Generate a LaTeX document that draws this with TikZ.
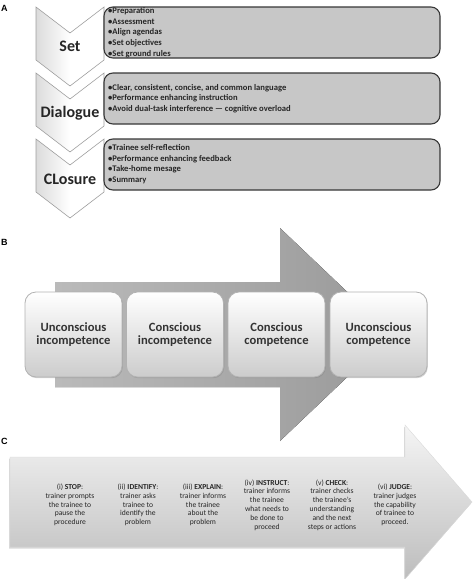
\documentclass[tikz,border=0pt]{standalone}
\usepackage{fontspec}
\setmainfont{Carlito}
\newfontfamily\labelfont{Liberation Sans}
\usetikzlibrary{shadows}
\begin{document}
\begin{tikzpicture}[x=1pt,y=-1pt,
  paneltxt/.style={font=\labelfont\bfseries\fontsize{9}{10}\selectfont, inner sep=0pt, anchor=west},
  chev/.style={draw=black!38, line width=0.6pt, left color=black!14, right color=white, middle color=white},
  chevtxt/.style={font=\fontsize{16}{18}\selectfont\bfseries, text=black!85, inner sep=0pt},
  listbox/.style={draw=black!78, line width=1.1pt, fill=black!22, rounded corners=9pt},
  listtxt/.style={align=left, font=\fontsize{8.6}{10.7}\selectfont\bfseries, text=black!85, inner sep=0pt, anchor=west},
  bigarrow/.style={left color=black!27, right color=black!40},
  bbox/.style={rounded corners=11pt, draw=black!30, line width=0.8pt, top color=white, bottom color=black!20,
     minimum width=97pt, minimum height=85pt, align=center, inner sep=0pt,
     font=\fontsize{12.6}{13.5}\selectfont\bfseries, text=black!80,
     drop shadow={shadow xshift=0.8pt, shadow yshift=-1.2pt, opacity=0.35}},
  carrow/.style={draw=black!15, line width=0.4pt, top color=black!4, bottom color=black!26,
     drop shadow={shadow xshift=-1pt, shadow yshift=-1.5pt, opacity=0.3}},
  ctxt/.style={align=center, font=\fontsize{7.6}{8.8}\selectfont, text=black!85, inner sep=0pt}
]
\useasboundingbox (0,0) rectangle (474,579);

% ---------------- Panel A ----------------
\node[paneltxt] (labA) at (1,8) {A};

\foreach \T in {7,73,139}{
  \draw[chev] (36,\T) -- (70,\T+26) -- (104,\T) -- (104,\T+53) -- (70,\T+79) -- (36,\T+53) -- cycle;
}
\draw[listbox] (104,7) rectangle (440,58);
\draw[listbox] (104,73) rectangle (440,124);
\draw[listbox] (104,139) rectangle (440,190);

\node[chevtxt] (set) at (70,46) {Set};
\node[chevtxt] (dial) at (70,113) {Dialogue};
\node[chevtxt] (clos) at (70,179) {CLosure};

\node[listtxt] (setlist) at (108,32.5) {•Preparation\\•Assessment\\•Align agendas\\•Set objectives\\•Set ground rules};
\node[listtxt] (diallist) at (108,98.5) {•Clear, consistent, concise, and common language\\•Performance enhancing instruction\\•Avoid dual-task interference — cognitive overload};
\node[listtxt] (closlist) at (108,164) {•Trainee self-reflection\\•Performance enhancing feedback\\•Take-home mesage\\•Summary};

% ---------------- Panel B ----------------
\node[paneltxt] (labB) at (1,242) {B};
\fill[bigarrow] (55,282) -- (280,282) -- (280,228) -- (392,334.5) -- (280,441) -- (280,387) -- (55,387) -- cycle;

\node[bbox] (b1) at (73.5,334.5) {Unconscious\\incompetence};
\node[bbox] (b2) at (175,334.5) {Conscious\\incompetence};
\node[bbox] (b3) at (276.5,334.5) {Conscious\\competence};
\node[bbox] (b4) at (378.5,334.5) {Unconscious\\competence};

% ---------------- Panel C ----------------
\node[paneltxt] (labC) at (1,441) {C};
\draw[carrow] (10,457) -- (405,457) -- (405,425) -- (472,502) -- (405,579) -- (405,547) -- (10,547) -- cycle;

\node[ctxt] (c1) at (70,505) {(i) \textbf{STOP}:\\trainer prompts\\the trainee to\\pause the\\procedure};
\node[ctxt] (c2) at (138,505) {(ii) \textbf{IDENTIFY}:\\trainer asks\\trainee to\\identify the\\problem};
\node[ctxt] (c3) at (203,505) {(iii) \textbf{EXPLAIN}:\\trainer informs\\the trainee\\about the\\problem};
\node[ctxt] (c4) at (267,505) {(iv) \textbf{INSTRUCT}:\\trainer informs\\the trainee\\what needs to\\be done to\\proceed};
\node[ctxt] (c5) at (332,505) {(v) \textbf{CHECK}:\\trainer checks\\the trainee's\\understanding\\and the next\\steps or actions};
\node[ctxt] (c6) at (395,505) {(vi) \textbf{JUDGE}:\\trainer judges\\the capability\\of trainee to\\proceed.};
\end{tikzpicture}
\end{document}
